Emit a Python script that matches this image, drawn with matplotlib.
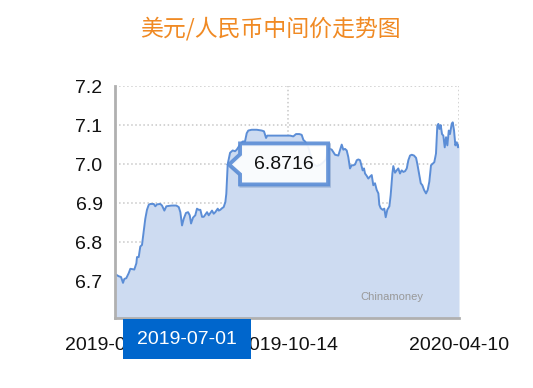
import matplotlib.pyplot as plt
from matplotlib.patches import Polygon, Rectangle

plt.rcParams['font.family'] = ['Liberation Sans', 'DejaVu Sans']

# days since 2019-04-10 (approx.) and central parity rate
days = [0, 1.1, 3.9, 6.4, 8.5, 9.9, 12.0, 14.6, 16.3, 18.8, 20.5, 22.7, 23.4, 25.2,
        26.9, 28.7, 30.5, 32.2, 34.0, 35.9, 37.6, 41.2, 42.9, 44.7, 48.2, 50.0,
        52.5, 54.6, 57.1, 60.6, 65.2, 67.8, 69.5, 71.3, 73.1, 75.5, 77.7, 79.5,
        80.9, 83.0, 85.4, 87.2, 89.1, 90.8, 92.6, 94.4, 96.1, 97.9, 99.7, 101.4,
        103.2, 105.0, 106.7, 109.3, 110.3, 112.0, 113.8, 115.6, 117.4, 118.4,
        119.2, 119.9, 122.4, 125.2, 127.7, 129.5, 133.0, 135.9, 138.3, 140.1,
        141.8, 145.4, 150.8, 156.1, 158.5, 160.7, 162.0, 166.7, 175.6, 186.2,
        189.7, 192.6, 196.1, 198.6, 200.4, 202.2, 205.4, 208.5, 210.7, 214.9,
        218.1, 221.3, 224.5, 227.0, 230.6, 234.1, 237.6, 241.2, 242.9, 244.7,
        246.5, 248.2, 250.0, 251.8, 253.6, 255.4, 257.2, 258.9, 260.7, 261.7,
        263.5, 264.9, 266.0, 267.8, 269.5, 271.3, 273.1, 274.8, 276.6, 278.4,
        280.2, 281.2, 282.7, 284.8, 286.5, 288.0, 289.7, 291.9, 293.3, 295.1,
        296.1, 297.9, 299.7, 301.4, 303.2, 305.0, 306.8, 308.6, 310.4, 312.1,
        313.9, 315.7, 318.1, 320.3, 321.6, 323.5, 325.3, 327.0, 328.8, 330.9,
        332.7, 334.4, 336.2, 338.0, 339.7, 341.5, 342.9, 344.0, 345.1, 346.5,
        347.9, 349.3, 350.8, 352.2, 353.6, 355.1, 356.4, 358.2, 359.3, 360.7,
        362.1, 363.6, 364.9, 366.0]
rates = [6.717, 6.717, 6.713, 6.711, 6.696, 6.706, 6.708, 6.721, 6.732, 6.731, 6.730,
         6.746, 6.762, 6.762, 6.789, 6.793, 6.827, 6.860, 6.883, 6.896, 6.898,
         6.898, 6.892, 6.897, 6.898, 6.894, 6.881, 6.892, 6.893, 6.894, 6.894,
         6.890, 6.877, 6.843, 6.860, 6.875, 6.877, 6.869, 6.848, 6.863, 6.869,
         6.886, 6.883, 6.883, 6.865, 6.865, 6.871, 6.877, 6.869, 6.875, 6.881,
         6.873, 6.877, 6.886, 6.881, 6.883, 6.887, 6.890, 6.903, 6.924, 6.966,
         7.000, 7.029, 7.035, 7.033, 7.037, 7.050, 7.058, 7.058, 7.079, 7.086,
         7.088, 7.088, 7.086, 7.084, 7.067, 7.073, 7.073, 7.073, 7.073, 7.071,
         7.077, 7.077, 7.075, 7.062, 7.058, 7.045, 7.020, 7.000, 6.995, 6.998,
         7.004, 7.012, 7.041, 7.037, 7.024, 7.022, 7.050, 7.037, 7.039, 7.035,
         7.018, 6.989, 6.997, 6.997, 6.999, 7.010, 7.012, 7.010, 7.001, 6.984,
         6.989, 6.976, 6.970, 6.963, 6.968, 6.972, 6.946, 6.951, 6.934, 6.925,
         6.896, 6.887, 6.883, 6.886, 6.864, 6.883, 6.892, 6.921, 6.976, 6.995,
         6.978, 6.984, 6.989, 6.976, 6.984, 6.980, 6.982, 6.989, 7.010, 7.022,
         7.024, 7.022, 7.016, 7.001, 6.976, 6.951, 6.946, 6.934, 6.925, 6.934,
         6.955, 6.997, 7.001, 7.005, 7.027, 7.098, 7.103, 7.090, 7.100, 7.077,
         7.073, 7.043, 7.069, 7.048, 7.086, 7.077, 7.103, 7.107, 7.086, 7.048,
         7.056, 7.043, 7.048]

tick_pos = [0, 184, 366]
tick_labels = ['2019-04-10', '2019-10-14', '2020-04-10']
y_ticks = [6.7, 6.8, 6.9, 7.0, 7.1, 7.2]
hover_date = '2019-07-01'
hover_value = '6.8716'

fig = plt.figure(figsize=(5.33, 3.88), dpi=100)
ax = fig.add_axes([0.2158, 0.1804, 0.6454, 0.5979])

ymin = 6.606
ax.fill_between(days, rates, ymin, color='#cddbf1', lw=0, zorder=1)
ax.plot(days, rates, color='#5b8dd6', lw=1.4, zorder=2)
ax.set_xlim(0, 366)
ax.set_ylim(ymin, 7.2)

ax.set_yticks(y_ticks)
ax.set_yticklabels([f'{v:.1f}' for v in y_ticks])
ax.set_xticks(tick_pos)
ax.set_xticklabels(tick_labels)
ax.tick_params(length=0, labelsize=14, colors='#111111')
ax.tick_params(axis='y', pad=9)
ax.tick_params(axis='x', pad=14)

ax.grid(True, linestyle=':', color='#c8c8c8', lw=1.1, zorder=0)
ax.set_axisbelow(True)
for s in ['top', 'right']:
    ax.spines[s].set_visible(False)
for s in ['left', 'bottom']:
    ax.spines[s].set_color('#b0b0b0')
    ax.spines[s].set_linewidth(2)
    ax.spines[s].set_zorder(5)

ax.text(295, 6.66, 'Chinamoney', fontsize=8, color='#999999', ha='center', va='center')

# tooltip
tip = [(121.3, 6.999), (133, 7.025), (133, 7.053), (226.7, 7.053), (226.7, 6.948),
       (133, 6.948), (133, 6.974)]
shadow = [(x + 1.2, y - 0.004) for x, y in tip]
ax.add_patch(Polygon(shadow, closed=True, fc='none', ec='#8aa4cc', lw=2.5, zorder=6, alpha=0.6))
ax.add_patch(Polygon(tip, closed=True, fc='white', ec='#5b8dd6', lw=2.8, alpha=0.9, zorder=7))
ax.text(180, 7.0, hover_value, fontsize=14, color='#111111', ha='center', va='center', zorder=8)

# highlighted x label
fig.patches.append(Rectangle((0.2308, 0.0747), 0.2402, 0.1031, transform=fig.transFigure,
                             fc='#0066cc', ec='none', zorder=10))
fig.text(0.3508, 0.125, hover_date, fontsize=14, color='white', ha='center', va='center', zorder=11)

fig.text(0.5066, 0.927, '美元/人民币中间价走势图', fontsize=16.5, color='#f08a24',
         ha='center', va='center', family=['Noto Sans CJK SC', 'DejaVu Sans'])

fig.savefig('out.png', dpi=100)
